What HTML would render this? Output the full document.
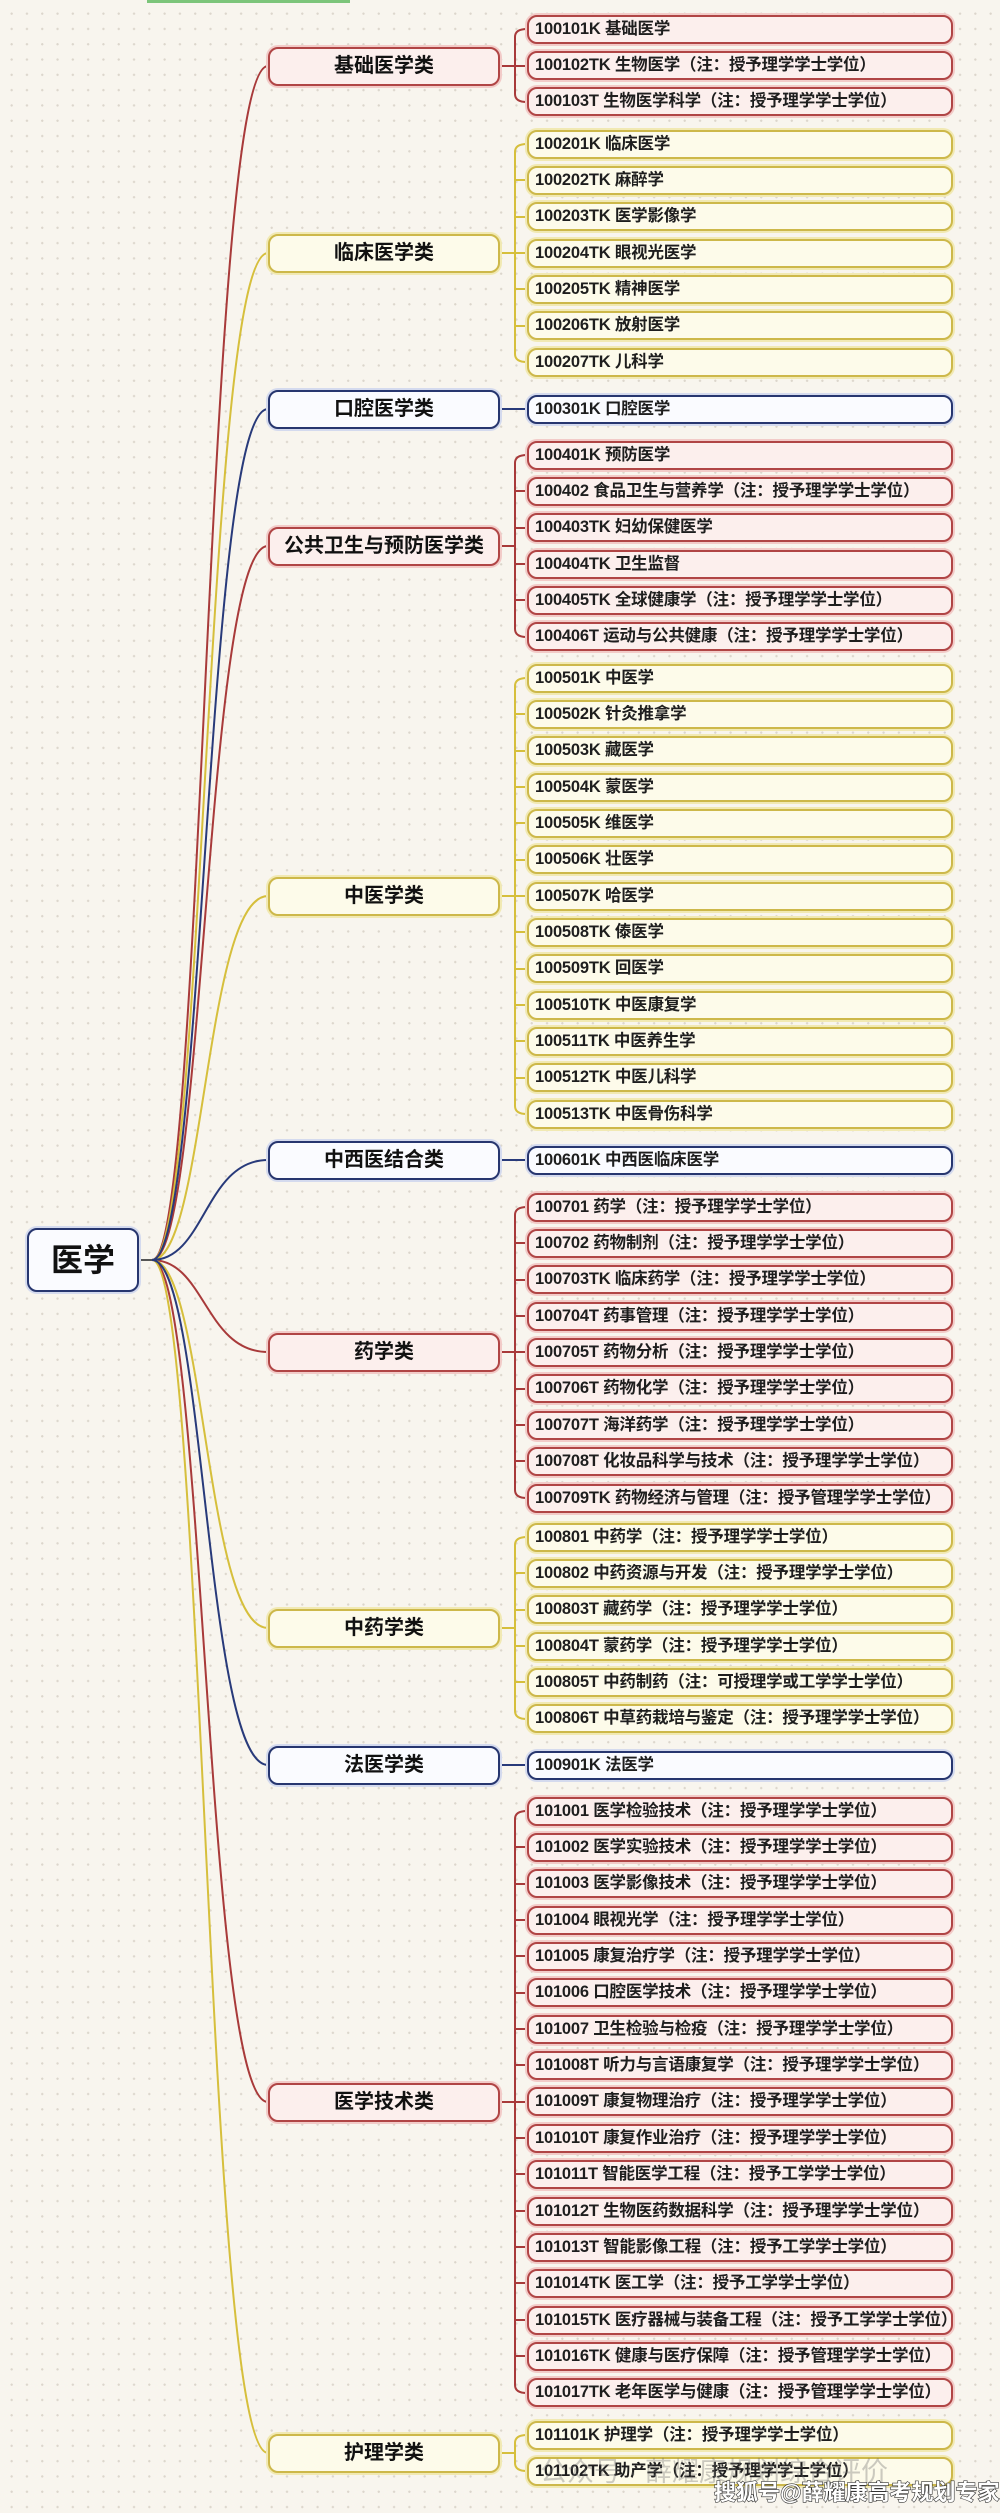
<!DOCTYPE html>
<html><head><meta charset="utf-8">
<style>
html,body{margin:0;padding:0}
body{width:1000px;height:2513px;position:relative;overflow:hidden;background-color:#f8f5ee;background-image:radial-gradient(circle,#dcd6cc 1px,transparent 1.3px);background-size:15.3px 15.3px;background-position:4px 6px;font-family:"Liberation Sans","Noto Sans CJK SC",sans-serif}
svg{position:absolute;left:0;top:0}
.l{position:absolute;left:527px;width:426px;height:29px;box-sizing:border-box;border:2px solid;border-radius:10px;padding-left:6px;font-size:16.5px;line-height:25px;color:#1e1e1e;white-space:nowrap;font-weight:bold;letter-spacing:-0.2px}
.c{position:absolute;left:268px;width:232px;height:39px;box-sizing:border-box;border:2px solid;border-radius:10px;font-size:20px;font-weight:bold;line-height:35px;text-align:center;color:#111}
.r{border-color:#b04545;background:#fcefed;box-shadow:0 0 0 2px #f2cbc8}
.y{border-color:#cdb84a;background:#fdfbea;box-shadow:0 0 0 2px #f1e9b3}
.b{border-color:#27366f;background:#fafbff;box-shadow:0 0 0 2px #d4daee}
</style></head><body>
<div style="position:absolute;left:147px;top:0;width:203px;height:3px;background:#7cc57a"></div>
<svg width="1000" height="2513" fill="none" stroke-width="2">
<path d="M139 1260 L152 1260" stroke="#555"/>
<g stroke="#a83a3a">
<path d="M152 1260 C205 1260 205 66 268 66"/>
<path d="M152 1260 C205 1260 205 546 268 546"/>
<path d="M152 1260 C205 1260 205 1352 268 1352"/>
<path d="M152 1260 C205 1260 205 2102 268 2102"/>
</g>
<g stroke="#d6bf3c">
<path d="M152 1260 C205 1260 205 253 268 253"/>
<path d="M152 1260 C205 1260 205 896 268 896"/>
<path d="M152 1260 C205 1260 205 1628 268 1628"/>
<path d="M152 1260 C205 1260 205 2453 268 2453"/>
</g>
<g stroke="#283a7a">
<path d="M152 1260 C205 1260 205 409 268 409"/>
<path d="M152 1260 C205 1260 205 1160 268 1160"/>
<path d="M152 1260 C205 1260 205 1765 268 1765"/>
</g>
<!-- category to leaf brackets -->
<g stroke="#a83a3a">
<path d="M500 66 L515 66 M515 37 Q515 29 527 29 M515 37 L515 94 Q515 102 527 102 M515 66 L527 66"/>
<path d="M500 546 L515 546 M515 463 Q515 455 527 455 L527 455 M515 463 L515 629 Q515 637 527 637 M515 491 L527 491 M515 528 L527 528 M515 564 L527 564 M515 600 L527 600"/>
<path d="M500 1352 L515 1352 M515 1215 Q515 1207 527 1207 M515 1215 L515 1490 Q515 1498 527 1498 M515 1243 L527 1243 M515 1280 L527 1280 M515 1316 L527 1316 M515 1352 L527 1352 M515 1389 L527 1389 M515 1425 L527 1425 M515 1461 L527 1461"/>
<path d="M500 2102 L515 2102 M515 1819 Q515 1811 527 1811 M515 1819 L515 2385 Q515 2393 527 2393 M515 1847 L527 1847 M515 1884 L527 1884 M515 1920 L527 1920 M515 1956 L527 1956 M515 1993 L527 1993 M515 2029 L527 2029 M515 2065 L527 2065 M515 2102 L527 2102 M515 2138 L527 2138 M515 2174 L527 2174 M515 2211 L527 2211 M515 2247 L527 2247 M515 2283 L527 2283 M515 2320 L527 2320 M515 2356 L527 2356"/>
</g>
<g stroke="#d6bf3c">
<path d="M500 253 L515 253 M515 152 Q515 144 527 144 M515 152 L515 354 Q515 362 527 362 M515 180 L527 180 M515 217 L527 217 M515 253 L527 253 M515 289 L527 289 M515 326 L527 326"/>
<path d="M500 896 L515 896 M515 686 Q515 678 527 678 M515 686 L515 1106 Q515 1114 527 1114 M515 714 L527 714 M515 751 L527 751 M515 787 L527 787 M515 823 L527 823 M515 860 L527 860 M515 896 L527 896 M515 932 L527 932 M515 969 L527 969 M515 1005 L527 1005 M515 1041 L527 1041 M515 1078 L527 1078"/>
<path d="M500 1628 L515 1628 M515 1545 Q515 1537 527 1537 M515 1545 L515 1711 Q515 1719 527 1719 M515 1573 L527 1573 M515 1610 L527 1610 M515 1646 L527 1646 M515 1682 L527 1682"/>
<path d="M500 2453 L515 2453 M515 2443 Q515 2435 527 2435 M515 2443 L515 2463 Q515 2471 527 2471"/>
</g>
<g stroke="#283a7a">
<path d="M500 409 L527 409"/>
<path d="M500 1160 L527 1160"/>
<path d="M500 1765 L527 1765"/>
</g>
</svg>

<div style="position:absolute;left:27px;top:1228px;width:112px;height:64px;box-sizing:border-box;border:2px solid #27366f;border-radius:10px;background:#fafbff;box-shadow:0 0 0 2px #d4daee;font-size:32px;font-weight:bold;text-align:center;line-height:60px;color:#111">医学</div>

<div class="c r" style="top:46.5px">基础医学类</div>
<div class="c y" style="top:233.5px">临床医学类</div>
<div class="c b" style="top:389.5px">口腔医学类</div>
<div class="c r" style="top:526.5px">公共卫生与预防医学类</div>
<div class="c y" style="top:876.5px">中医学类</div>
<div class="c b" style="top:1140.5px">中西医结合类</div>
<div class="c r" style="top:1332.5px">药学类</div>
<div class="c y" style="top:1608.5px">中药学类</div>
<div class="c b" style="top:1745.5px">法医学类</div>
<div class="c r" style="top:2082.5px">医学技术类</div>
<div class="c y" style="top:2433.5px">护理学类</div>

<div class="l r" style="top:14.5px">100101K 基础医学</div>
<div class="l r" style="top:51px">100102TK 生物医学（注：授予理学学士学位）</div>
<div class="l r" style="top:87px">100103T 生物医学科学（注：授予理学学士学位）</div>

<div class="l y" style="top:129.5px">100201K 临床医学</div>
<div class="l y" style="top:166px">100202TK 麻醉学</div>
<div class="l y" style="top:202px">100203TK 医学影像学</div>
<div class="l y" style="top:238.5px">100204TK 眼视光医学</div>
<div class="l y" style="top:275px">100205TK 精神医学</div>
<div class="l y" style="top:311px">100206TK 放射医学</div>
<div class="l y" style="top:347.5px">100207TK 儿科学</div>

<div class="l b" style="top:394.5px">100301K 口腔医学</div>

<div class="l r" style="top:440.5px">100401K 预防医学</div>
<div class="l r" style="top:477px">100402 食品卫生与营养学（注：授予理学学士学位）</div>
<div class="l r" style="top:513px">100403TK 妇幼保健医学</div>
<div class="l r" style="top:549.5px">100404TK 卫生监督</div>
<div class="l r" style="top:586px">100405TK 全球健康学（注：授予理学学士学位）</div>
<div class="l r" style="top:622px">100406T 运动与公共健康（注：授予理学学士学位）</div>

<div class="l y" style="top:663.5px">100501K 中医学</div>
<div class="l y" style="top:700px">100502K 针灸推拿学</div>
<div class="l y" style="top:736px">100503K 藏医学</div>
<div class="l y" style="top:772.5px">100504K 蒙医学</div>
<div class="l y" style="top:809px">100505K 维医学</div>
<div class="l y" style="top:845px">100506K 壮医学</div>
<div class="l y" style="top:881.5px">100507K 哈医学</div>
<div class="l y" style="top:918px">100508TK 傣医学</div>
<div class="l y" style="top:954px">100509TK 回医学</div>
<div class="l y" style="top:990.5px">100510TK 中医康复学</div>
<div class="l y" style="top:1027px">100511TK 中医养生学</div>
<div class="l y" style="top:1063px">100512TK 中医儿科学</div>
<div class="l y" style="top:1099.5px">100513TK 中医骨伤科学</div>

<div class="l b" style="top:1145.5px">100601K 中西医临床医学</div>

<div class="l r" style="top:1192.5px">100701 药学（注：授予理学学士学位）</div>
<div class="l r" style="top:1229px">100702 药物制剂（注：授予理学学士学位）</div>
<div class="l r" style="top:1265px">100703TK 临床药学（注：授予理学学士学位）</div>
<div class="l r" style="top:1301.5px">100704T 药事管理（注：授予理学学士学位）</div>
<div class="l r" style="top:1338px">100705T 药物分析（注：授予理学学士学位）</div>
<div class="l r" style="top:1374px">100706T 药物化学（注：授予理学学士学位）</div>
<div class="l r" style="top:1410.5px">100707T 海洋药学（注：授予理学学士学位）</div>
<div class="l r" style="top:1447px">100708T 化妆品科学与技术（注：授予理学学士学位）</div>
<div class="l r" style="top:1483.5px">100709TK 药物经济与管理（注：授予管理学学士学位）</div>

<div class="l y" style="top:1522.5px">100801 中药学（注：授予理学学士学位）</div>
<div class="l y" style="top:1559px">100802 中药资源与开发（注：授予理学学士学位）</div>
<div class="l y" style="top:1595px">100803T 藏药学（注：授予理学学士学位）</div>
<div class="l y" style="top:1631.5px">100804T 蒙药学（注：授予理学学士学位）</div>
<div class="l y" style="top:1668px">100805T 中药制药（注：可授理学或工学学士学位）</div>
<div class="l y" style="top:1704px">100806T 中草药栽培与鉴定（注：授予理学学士学位）</div>

<div class="l b" style="top:1750.5px">100901K 法医学</div>

<div class="l r" style="top:1796.5px">101001 医学检验技术（注：授予理学学士学位）</div>
<div class="l r" style="top:1833px">101002 医学实验技术（注：授予理学学士学位）</div>
<div class="l r" style="top:1869px">101003 医学影像技术（注：授予理学学士学位）</div>
<div class="l r" style="top:1905.5px">101004 眼视光学（注：授予理学学士学位）</div>
<div class="l r" style="top:1942px">101005 康复治疗学（注：授予理学学士学位）</div>
<div class="l r" style="top:1978px">101006 口腔医学技术（注：授予理学学士学位）</div>
<div class="l r" style="top:2014.5px">101007 卫生检验与检疫（注：授予理学学士学位）</div>
<div class="l r" style="top:2051px">101008T 听力与言语康复学（注：授予理学学士学位）</div>
<div class="l r" style="top:2087px">101009T 康复物理治疗（注：授予理学学士学位）</div>
<div class="l r" style="top:2123.5px">101010T 康复作业治疗（注：授予理学学士学位）</div>
<div class="l r" style="top:2160px">101011T 智能医学工程（注：授予工学学士学位）</div>
<div class="l r" style="top:2196.5px">101012T 生物医药数据科学（注：授予理学学士学位）</div>
<div class="l r" style="top:2232.5px">101013T 智能影像工程（注：授予工学学士学位）</div>
<div class="l r" style="top:2269px">101014TK 医工学（注：授予工学学士学位）</div>
<div class="l r" style="top:2305.5px">101015TK 医疗器械与装备工程（注：授予工学学士学位）</div>
<div class="l r" style="top:2342px">101016TK 健康与医疗保障（注：授予管理学学士学位）</div>
<div class="l r" style="top:2378px">101017TK 老年医学与健康（注：授予管理学学士学位）</div>

<div class="l y" style="top:2420.5px">101101K 护理学（注：授予理学学士学位）</div>
<div class="l y" style="top:2456.5px">101102TK 助产学（注：授予理学学士学位）</div>

<svg width="1000" height="2513" style="pointer-events:none">
<text x="540" y="2481" font-family="Liberation Sans, Noto Sans CJK SC, sans-serif" font-size="27" fill="rgba(110,110,110,0.35)">公众号 · 薛耀康规划综合评价</text>
<text x="714" y="2500" font-family="Liberation Sans, Noto Sans CJK SC, sans-serif" font-size="22" font-weight="bold" fill="#fff" stroke="#333" stroke-width="1.2" paint-order="stroke">搜狐号@薛耀康高考规划专家</text>
</svg>
</body></html>
